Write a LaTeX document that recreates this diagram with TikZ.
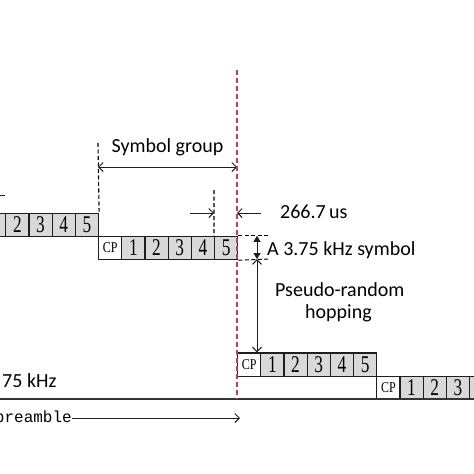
\documentclass[tikz,border=0pt]{standalone}
\usepackage{fontspec}
\setmainfont{Carlito}
\newfontfamily\cellfont{Liberation Serif}
\newfontfamily\prefont{Liberation Mono}
\usetikzlibrary{arrows.meta}
\definecolor{cellgray}{RGB}{217,217,217}
\definecolor{reddash}{RGB}{192,64,80}
\definecolor{edge}{RGB}{30,30,30}
\tikzset{
  cell/.style={draw=edge,line width=1.1pt,fill=cellgray,minimum width=23.2pt,minimum height=23.3pt,
    inner sep=0pt,anchor=north west,font=\cellfont\fontsize{24}{24}\selectfont},
  cpcell/.style={cell,fill=white,font=\cellfont\fontsize{15}{15}\selectfont},
  lbl/.style={font=\fontsize{20}{24}\selectfont,inner sep=0pt},
  barb/.style={line width=1pt,draw=edge},
  onearrow/.style={barb,-{Straight Barb[length=4.5pt,width=9pt]}},
  twoarrow/.style={barb,{Straight Barb[length=4.5pt,width=9pt]}-{Straight Barb[length=4.5pt,width=9pt]}},
  blackdash/.style={draw=black,line width=1.1pt,dash pattern=on 4pt off 2.5pt},
  reddashed/.style={draw=reddash,line width=1.2pt,dash pattern=on 5pt off 3pt},
}
\newcommand{\symrow}[3]{% name, x, y
  \node[cpcell] (#1-0) at (#2,#3) {\scalebox{0.8}[1]{CP}};
  \foreach \k in {1,...,5}{
    \node[cell] (#1-\k) at ({#2+23.2*\k},#3) {\scalebox{0.72}[1]{\k}};
  }
}
\begin{document}
\begin{tikzpicture}[x=1pt,y=-1pt]
\useasboundingbox (0,0) rectangle (474,474);
\clip (0,0) rectangle (474,474);
\fill[white] (0,0) rectangle (474,474);

% symbol rows
\symrow{ra}{-41.2}{212.5}
\symrow{rb}{98}{235.8}
\symrow{rc}{237}{352.4}
\symrow{rd}{376.2}{375.7}

% axis
\coordinate (axL) at (0,399);
\coordinate (axR) at (474,399);
\draw[draw=edge!90,line width=1.5pt] (axL) -- (axR);

% small leftover mark
\coordinate (m1) at (0,195);
\coordinate (m2) at (5,195);
\draw[barb] (m1) -- (m2);

% symbol group
\coordinate (sgTop) at (98,143);
\draw[blackdash] (sgTop) -- (ra-5.north east);
\coordinate (sgL) at (98,167);
\coordinate (sgR) at (237,167);
\draw[twoarrow] (sgL) -- (sgR);
\node[lbl,anchor=base] (sg) at (167.5,152) {Symbol group};

% 266.7 us
\coordinate (cTop) at (214,190);
\draw[blackdash] (cTop) -- (rb-5.north west);
\coordinate (uA) at (190,213);
\coordinate (uB) at (214,213);
\coordinate (uC) at (261,213);
\coordinate (uD) at (237,213);
\draw[onearrow] (uA) -- (uB);
\draw[onearrow] (uC) -- (uD);
\node[lbl,anchor=base west] (us) at (280,218) {266.7\,us};

% 3.75 kHz symbol
\coordinate (hTop) at (268,235.8);
\coordinate (hBot) at (268,259.1);
\draw[blackdash] (rb-5.north east) -- (hTop);
\draw[blackdash] (rb-5.south east) -- (hBot);
\coordinate (sA) at (257,235.8);
\coordinate (sB) at (257,259.1);
\draw[line width=0.9pt,draw=edge,{Triangle[length=6pt,width=7pt]}-{Triangle[length=6pt,width=7pt]}] (sA) -- (sB);
\node[lbl,anchor=base west] (sym) at (267,255) {A 3.75 kHz symbol};

% pseudo-random hopping
\coordinate (pB) at (257,352.4);
\draw[twoarrow] (sB) -- (pB);
\node[lbl,anchor=base west] (ps) at (275,296) {Pseudo-random};
\node[lbl,anchor=base west] (hp) at (305,318) {hopping};

% bottom labels
\node[lbl,anchor=base west] (khz) at (2,387) {75 kHz};
\node[font=\prefont\fontsize{16}{16}\selectfont,inner sep=0pt,anchor=base east] (pre) at (72,422) {preamble};
\coordinate (preEnd) at (240,418);
\draw[onearrow] (pre.east |- preEnd) -- (preEnd);

% red boundary
\coordinate (redTop) at (237,70);
\coordinate (redBot) at (237,399);
\draw[reddashed] (redTop) -- (redBot);
\end{tikzpicture}
\end{document}
